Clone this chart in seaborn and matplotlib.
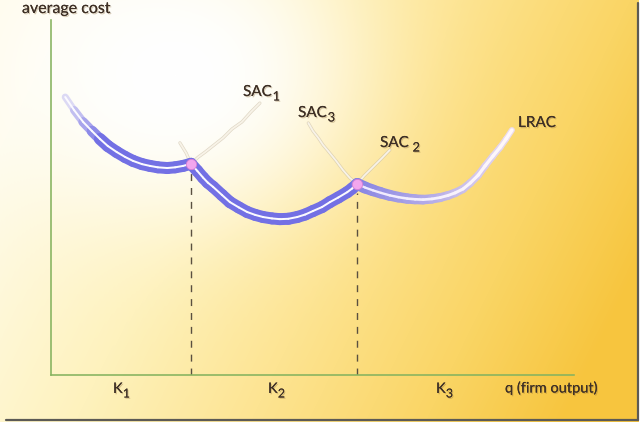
import numpy as np
import pandas as pd
import matplotlib
matplotlib.use('Agg')
import matplotlib.pyplot as plt
import seaborn as sns
from matplotlib import patheffects as pe
from matplotlib.colors import LinearSegmentedColormap, to_rgb

# short-run average cost curves (q = firm output, c = average cost)
sac1_q = [0.27, 0.44, 0.61, 0.78, 0.93, 1.08, 1.25, 1.41, 1.56, 1.73, 1.88, 2.03, 2.21, 2.36, 2.51, 2.66,
          2.80, 2.93, 3.10, 3.27, 3.44, 3.63, 3.80, 3.97]
sac1_c = [7.83, 7.46, 7.13, 6.87, 6.65, 6.45, 6.28, 6.14, 6.03, 5.94, 5.89, 5.85, 5.83, 5.85, 5.89, 5.95,
          6.14, 6.28, 6.48, 6.68, 6.93, 7.13, 7.41, 7.66]
sac2_q = [2.45, 2.57, 2.66, 2.78, 2.89, 2.98, 3.08, 3.25, 3.40, 3.57, 3.73, 3.88, 4.03, 4.20, 4.35, 4.51,
          4.68, 4.83, 4.98, 5.15, 5.30, 5.46, 5.63, 5.72, 5.82, 5.95, 6.10, 6.29, 6.44]
sac2_c = [6.54, 6.25, 5.95, 5.75, 5.56, 5.42, 5.30, 5.07, 4.87, 4.72, 4.59, 4.51, 4.45, 4.41, 4.39, 4.40,
          4.45, 4.52, 4.62, 4.73, 4.87, 5.00, 5.15, 5.25, 5.38, 5.61, 5.83, 6.11, 6.34]
sac3_q = [4.89, 4.98, 5.08, 5.17, 5.25, 5.42, 5.55, 5.68, 5.82, 5.97, 6.12, 6.27, 6.44, 6.60, 6.77, 6.92,
          7.07, 7.24, 7.40, 7.55, 7.68, 7.83, 7.97, 8.12, 8.25, 8.40, 8.54, 8.65, 8.76]
sac3_c = [7.10, 6.87, 6.68, 6.48, 6.34, 6.03, 5.77, 5.55, 5.38, 5.28, 5.20, 5.13, 5.06, 5.01, 4.97, 4.95,
          4.94, 4.96, 5.00, 5.06, 5.13, 5.24, 5.41, 5.63, 5.89, 6.17, 6.42, 6.65, 6.90]

# outputs where the firm switches plant size
switch_q = [2.66, 5.82]
k_names = ['1', '2', '3']

PX = 0.72  # one pixel in points at dpi 100
INK = '#3e3026'
shadow = [pe.withSimplePatchShadow(offset=(0.8, -0.9), shadow_rgbFace='#8a6a3a', alpha=0.35), pe.Normal()]

sns.set_style('white')
plt.rcParams['font.family'] = ['Lato', 'DejaVu Sans']

fig = plt.figure(figsize=(6.42, 4.22), dpi=100)
fig.patch.set_facecolor('white')

# background panel: pale glow at the top left, warm yellow to the right
bg = fig.add_axes([0, 0, 1, 1], zorder=0)
H, W = 422, 642
yy, xx = np.mgrid[0:H, 0:W]
t = np.clip(0.8 * (xx - 40) / 560 + 0.25 * (yy - 60) / 360, 0, 1)
cmap = LinearSegmentedColormap.from_list(
    'bg', [(0, '#fffbe8'), (0.3, '#fef2bd'), (0.55, '#fde492'), (0.8, '#fad565'), (1, '#f7c53e')])
img = cmap(t)[..., :3]
glow = np.exp(-(((xx - 175) / 185) ** 2 + ((yy - 75) / 150) ** 2) ** 1.3)[..., None]
img = img * (1 - glow) + glow
img[:, 639:] = 1.0
bg.imshow(img, extent=(0, W, H, 0), aspect='auto', interpolation='bilinear')
bg.plot([638, 638], [3, 420], color='#5c5a55', lw=1.6)
bg.plot([6, 638], [420, 420], color='#5c5a55', lw=1.6)
bg.set_xlim(0, W)
bg.set_ylim(H, 0)
bg.axis('off')

ax = fig.add_axes([51 / 642, 47 / 422, 523 / 642, 355 / 422], zorder=1)
ax.patch.set_alpha(0)
ax.set_xlim(0, 9.94)
ax.set_ylim(0, 10)
ax.set_xticks([])
ax.set_yticks([])
for s in ['top', 'right']:
    ax.spines[s].set_visible(False)
for s in ['left', 'bottom']:
    ax.spines[s].set_color('#86b35f')
    ax.spines[s].set_linewidth(1.6 * PX)


def piece(q, c, lo, hi):
    q = np.asarray(q)
    c = np.asarray(c)
    m = (q >= lo - 1e-9) & (q <= hi + 1e-9)
    return q[m], c[m]


def ramp(c0, c1, n):
    a, b = np.array(to_rgb(c0)), np.array(to_rgb(c1))
    return [tuple(a + (b - a) * i / max(n - 1, 1)) for i in range(n)]


def band(q, c, colors, widths, z):
    ids = [f's{i:02d}' for i in range(len(q) - 1)]
    seg = pd.DataFrame({'q': np.repeat(q, 2)[1:-1], 'c': np.repeat(c, 2)[1:-1],
                        'seg': np.repeat(ids, 2)})
    sns.lineplot(data=seg, x='q', y='c', hue='seg', size='seg', hue_order=ids, size_order=ids,
                 palette=dict(zip(ids, colors)), sizes=dict(zip(ids, widths)),
                 legend=False, sort=False, estimator=None, ax=ax, zorder=z,
                 solid_capstyle='round')


def faint(q, c):
    sns.lineplot(x=q, y=c, sort=False, estimator=None, color='#cbbfa6', alpha=0.6,
                 linewidth=3.2 * PX, ax=ax, zorder=2)
    sns.lineplot(x=q, y=c, sort=False, estimator=None, color='#f8f3e8',
                 linewidth=1.8 * PX, ax=ax, zorder=2.1)


# the parts of each SAC that lie above the envelope
faint(*piece(sac1_q, sac1_c, switch_q[0], np.inf))
faint(*piece(sac2_q, sac2_c, -np.inf, switch_q[0]))
faint(*piece(sac2_q, sac2_c, switch_q[1], np.inf))
faint(*piece(sac3_q, sac3_c, -np.inf, switch_q[1]))

# LRAC = lower envelope, drawn as a thick tube
blue = '#7370e4'
q1, c1 = piece(sac1_q, sac1_c, -np.inf, switch_q[0])
n1 = len(q1) - 1
band(q1, c1, ramp('#dcd9f4', blue, 5) + [blue] * (n1 - 5),
     list(np.linspace(7, 12, 5) * PX) + [12 * PX] * (n1 - 5), 3)
band(q1, c1, ['#fbfaff'] * n1, [2 * PX] * n1, 3.1)

q2, c2 = piece(sac2_q, sac2_c, switch_q[0], switch_q[1])
n2 = len(q2) - 1
band(q2, c2, [blue] * n2, [12 * PX] * n2, 3)
band(q2, c2, ['#fbfaff'] * n2, [2 * PX] * n2, 3.1)

q3, c3 = piece(sac3_q, sac3_c, switch_q[1], np.inf)
n3 = len(q3) - 1
band(q3, c3, ramp('#8784e2', '#ebdcee', n3), list(np.linspace(12, 6, n3) * PX), 3)
band(q3, c3, ramp('#eeeaff', '#fff8fb', n3), list(np.linspace(2.2, 3.5, n3) * PX), 3.1)

# switch points and dashed drops to the axis
dot_c = [sac1_c[sac1_q.index(switch_q[0])], sac2_c[sac2_q.index(switch_q[1])]]
for q, c in zip(switch_q, dot_c):
    ax.plot([q, q], [0, c - 0.25], color='#5a5040', lw=1.0, dashes=(5, 5), zorder=2)
sns.scatterplot(x=switch_q, y=dot_c, s=55, color='#f2a6ee', edgecolor='#d77fd6',
                linewidth=0.6, ax=ax, zorder=5, legend=False)

# labels
fig.text(22 / W, 1 - 9 / H, 'average cost', fontsize=11.5, color=INK, va='center',
         path_effects=shadow)


def label(x, y, main, sub, size=11, sub_dx=0.02):
    t = fig.text(x / W, 1 - y / H, main, fontsize=size, color=INK, va='center',
                 path_effects=shadow)
    if sub:
        fig.add_artist(plt.Annotation(sub, xy=(1 + sub_dx, -0.25), xycoords=t,
                                      fontsize=size * 0.85, color=INK, va='bottom',
                                      path_effects=shadow))
    return t


label(243, 92, 'SAC', '1')
label(298, 113, 'SAC', '3')
label(380, 143, 'SAC', '2', sub_dx=0.12)
label(518, 123, 'LRAC', None)
for x, k in zip([113, 268, 436], k_names):
    label(x, 389, 'K', k, size=10.5)
label(505, 388, 'q (firm output)', None, size=10.5)

fig.savefig('out.png', dpi=100)
